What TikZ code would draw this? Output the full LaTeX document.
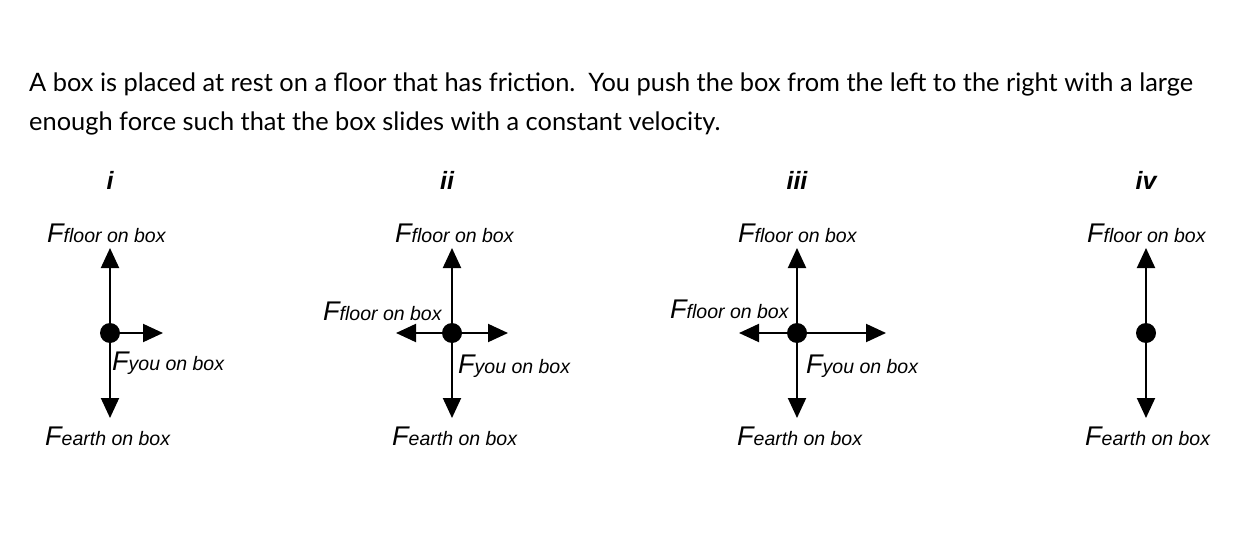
\documentclass[tikz,border=0pt]{standalone}
\usepackage{fontspec}
\setmainfont{Lato}
\newfontfamily\lblfont{Liberation Sans}
\usetikzlibrary{arrows.meta}
\tikzset{
 vec/.style={line width=2pt,-{Triangle[length=20pt,width=18pt]}},
 dotc/.style={circle,fill=black,inner sep=0pt,minimum size=20pt},
 lbl/.style={inner sep=0pt,font=\lblfont\itshape},
 ttl/.style={inner sep=0pt,font=\lblfont\bfseries\itshape\fontsize{25}{27}\selectfont},
}
\newcommand{\FF}[1]{{\fontsize{27}{29}\selectfont F}{\fontsize{19.5}{21}\selectfont #1}}
\begin{document}
\begin{tikzpicture}[x=1pt,y=-1pt]
\useasboundingbox (0,0) rectangle (1252,540);
\node[anchor=base west,inner sep=0pt,font=\fontsize{25.4}{30}\selectfont] (t1) at (29,92) {A box is placed at rest on a floor that has friction.\ \ You push the box from the left to the right with a large};
\node[anchor=base west,inner sep=0pt,font=\fontsize{25.4}{30}\selectfont] (t2) at (29,131) {enough force such that the box slides with a constant velocity.};
% i
\node[ttl] (ti) at (110,180) {i};
\node[dotc] (c1) at (110,333) {};
\coordinate (u1) at (110,248); \coordinate (d1) at (110,418); \coordinate (r1) at (163,333);
\draw[vec] (c1.center) -- (u1); \draw[vec] (c1.center) -- (d1); \draw[vec] (c1.center) -- (r1);
\node[lbl,anchor=west] (a1) at (47,233) {\FF{floor on box}};
\node[lbl,anchor=west] (b1) at (112,363) {\FF{you on box}};
\node[lbl,anchor=west] (e1) at (45,436) {\FF{earth on box}};
% ii
\node[ttl] (tii) at (447,180) {ii};
\node[dotc] (c2) at (452,333) {};
\coordinate (u2) at (452,248); \coordinate (d2) at (452,418); \coordinate (r2) at (508,333); \coordinate (l2) at (396,333);
\draw[vec] (c2.center) -- (u2); \draw[vec] (c2.center) -- (d2); \draw[vec] (c2.center) -- (r2); \draw[vec] (c2.center) -- (l2);
\node[lbl,anchor=west] (a2) at (395,233) {\FF{floor on box}};
\node[lbl,anchor=west] (f2) at (323,311) {\FF{floor on box}};
\node[lbl,anchor=west] (b2) at (458,366) {\FF{you on box}};
\node[lbl,anchor=west] (e2) at (392,436) {\FF{earth on box}};
% iii
\node[ttl] (tiii) at (797,180) {iii};
\node[dotc] (c3) at (797,333) {};
\coordinate (u3) at (797,248); \coordinate (d3) at (797,418); \coordinate (r3) at (886,333); \coordinate (l3) at (739,333);
\draw[vec] (c3.center) -- (u3); \draw[vec] (c3.center) -- (d3); \draw[vec] (c3.center) -- (r3); \draw[vec] (c3.center) -- (l3);
\node[lbl,anchor=west] (a3) at (738,233) {\FF{floor on box}};
\node[lbl,anchor=west] (f3) at (670,309) {\FF{floor on box}};
\node[lbl,anchor=west] (b3) at (806,366) {\FF{you on box}};
\node[lbl,anchor=west] (e3) at (737,436) {\FF{earth on box}};
% iv
\node[ttl] (tiv) at (1146,180) {iv};
\node[dotc] (c4) at (1146,333) {};
\coordinate (u4) at (1146,248); \coordinate (d4) at (1146,418);
\draw[vec] (c4.center) -- (u4); \draw[vec] (c4.center) -- (d4);
\node[lbl,anchor=west] (a4) at (1087,233) {\FF{floor on box}};
\node[lbl,anchor=west] (e4) at (1085,436) {\FF{earth on box}};
\end{tikzpicture}
\end{document}
